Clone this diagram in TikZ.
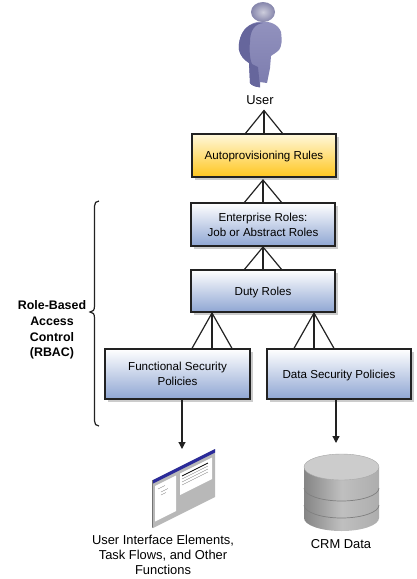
\documentclass[tikz,border=0pt]{standalone}
\usepackage{fontspec}
\setmainfont{Liberation Sans}
\usetikzlibrary{shadows,arrows.meta,calc}
\definecolor{edgec}{HTML}{222222}
\definecolor{bluebot}{HTML}{8FA6D3}
\definecolor{goldbot}{HTML}{FFC61E}
\definecolor{goldtop}{HTML}{FFF8DC}
\definecolor{bodyfront}{HTML}{9292BE}
\definecolor{bodyfrontb}{HTML}{7C7CAE}
\definecolor{bodyside}{HTML}{66669C}
\definecolor{headin}{HTML}{CDCDDC}
\definecolor{headout}{HTML}{8585AB}
\definecolor{winblue}{HTML}{2A2A9A}
\tikzset{
  x=1pt,y=-1pt,
  rolebox/.style={draw=edgec,line width=1.3pt,top color=#1,inner sep=1pt,align=center,font=\fontsize{11.6}{15}\selectfont,
     execute at begin node={\rule{0pt}{10.4pt}},
     drop shadow={shadow xshift=3pt,shadow yshift=-3pt,fill=black!40,opacity=.5}},
  plain/.style={font=\fontsize{12.9}{15}\selectfont,align=center,inner sep=0pt},
  conn/.style={draw=edgec,line width=1.2pt},
  arr/.style={conn,-{Triangle[length=7pt,width=7pt]}},
  iconline/.style={draw=black!50,line width=.4pt},
  discline/.style={draw=black!50,line width=.7pt},
}
\begin{document}
\begin{tikzpicture}
\useasboundingbox (0,0) rectangle (416,579);
% person
\path[top color=bodyfront,bottom color=bodyfrontb]
  (260,21.7) .. controls (270,21) and (278,24) .. (281,32) .. controls (282,40) and (282,46) .. (279,50)
  .. controls (276,53) and (272,55) .. (271,56) -- (270,68) -- (267,83) -- (260,82) -- (260,87.3)
  .. controls (255,87) and (251,85) .. (250,83) -- (249,63) .. controls (244,60) and (240,55) .. (239,50)
  .. controls (238,42) and (241,33) .. (246,28) .. controls (250,24) and (255,22) .. (260,21.7) -- cycle;
\path[fill=bodyside]
  (263,23) .. controls (255,24) and (250,30) .. (250,42) .. controls (249,50) and (250,60) .. (252,64)
  -- (258,67) -- (260,87.3) .. controls (255,87) and (251,85) .. (250,83) -- (249,63)
  .. controls (244,60) and (240,55) .. (239,50) .. controls (238,42) and (241,33) .. (246,28) .. controls (250,24) and (257,22) .. (263,23) -- cycle;
\shade[inner color=headin,outer color=headout] (263,12) ellipse [x radius=12,y radius=10];
\node[plain] (user) at (260,100) {User};
% boxes
\node[rolebox=white,bottom color=goldbot,top color=goldtop,minimum width=144pt,minimum height=43pt] (auto) at (264,155.5) {Autoprovisioning Rules};
\node[rolebox=white,bottom color=bluebot,minimum width=144pt,minimum height=43pt] (ent) at (263,224.5) {Enterprise Roles:\\Job or Abstract Roles};
\node[rolebox=white,bottom color=bluebot,minimum width=144pt,minimum height=42pt] (duty) at (263,291) {Duty Roles};
\node[rolebox=white,bottom color=bluebot,minimum width=145pt,minimum height=50pt] (func) at (177.5,374) {Functional Security\\Policies};
\node[rolebox=white,bottom color=bluebot,minimum width=144pt,minimum height=50pt] (data) at (339,374) {Data Security Policies};
% connectors
\coordinate (a1) at (264,110.5);
\coordinate (a2) at (263,180);
\coordinate (a3) at (263,247);
\coordinate (a4) at (212,313);
\coordinate (a5) at (314,313);
\foreach \ap/\bx/\cx/\dx in {a1/auto/0/18.5,a2/ent/0/18.5,a3/duty/0/18.5,a4/func/34.5/20,a5/data/-25/20}{
  \draw[conn] (\ap) -- ($(\bx.north)+(\cx,0)$);
  \draw[conn,line join=miter] ($(\bx.north)+(\cx-\dx,0)$) -- (\ap) -- ($(\bx.north)+(\cx+\dx,0)$);
}
% brace
\coordinate (bt) at (99,201);
\coordinate (bb) at (99,426);
\coordinate (bm) at (90,312);
\draw[conn] (bt) .. controls (96,201) and (94.5,203) .. (94.5,206) -- (94.5,306) .. controls (94.5,310) and (93,312) .. (bm)
  .. controls (93,312) and (94.5,314) .. (94.5,318) -- (94.5,421) .. controls (94.5,424) and (96,426) .. (bb);
\node[plain,font=\fontsize{12.4}{15.7}\selectfont\bfseries] (rbac) at (52,330) {Role-Based\\Access\\Control\\(RBAC)};
% window icon
\begin{scope}[shift={(153,480)}]
  \fill[black!55] (-1,0) -- (0,0) -- (0,48) -- (-1,47) -- cycle;
  \fill[black!28] (0,0) -- (62,-31) -- (62,17) -- (0,48) -- cycle;
  \fill[winblue] (0,0) -- (62,-31) -- (62,-27.5) -- (0,3.5) -- cycle;
  \fill[white] (2,6) -- (23,-4.5) -- (23,31) -- (2,41.5) -- cycle;
  \fill[white] (27,-6.5) -- (59,-22.5) -- (59,-1) -- (27,15) -- cycle;
  \draw[black,line width=.8pt] (29,-4) -- (55,-17);
  \draw[iconline] (29,-1) -- (55,-14) (29,2) -- (55,-11) (29,5) -- (55,-8);
  \draw[iconline] (5,9) -- (12,5.5) (8,12) -- (15,8.5) (8,15) -- (13,12.5);
\end{scope}
\node[plain] (uilab) at (163,554.5) {User Interface Elements,\\Task Flows, and Other\\Functions};
% cylinder
\shade[left color=black!48,right color=black!32,middle color=black!25]
  (304,467) -- (304,518) arc[start angle=180,end angle=360,x radius=37.5,y radius=-13] -- (379,467) -- cycle;
\draw[discline] (304,488) arc[start angle=180,end angle=360,x radius=37.5,y radius=-13];
\draw[discline] (304,505) arc[start angle=180,end angle=360,x radius=37.5,y radius=-13];
\fill[black!20] (341.5,467) ellipse [x radius=37.5,y radius=13];
\draw[black!35,line width=.4pt] (341.5,467) ellipse [x radius=37.5,y radius=13];
\node[plain] (crmlab) at (341,544) {CRM Data};
% arrows
\coordinate (t1) at (182,449);
\coordinate (t2) at (336,443);
\draw[arr] (func.south -| t1) -- (t1);
\draw[arr] (data.south -| t2) -- (t2);
\end{tikzpicture}
\end{document}
